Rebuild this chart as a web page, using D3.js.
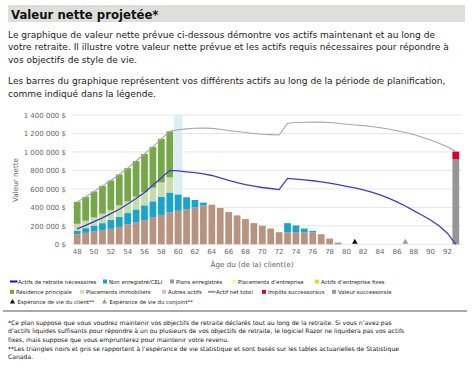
<!DOCTYPE html>
<html>
<head>
<meta charset="utf-8">
<script src="https://cdn.jsdelivr.net/npm/d3@7"></script>
<style>
  body { margin: 0; background: #fff; }
  svg { display: block; font-family: "DejaVu Sans", Verdana, sans-serif; }
</style>
</head>
<body>
<svg id="chart" width="474" height="377"></svg>
<script>
// ---- data (values in $) ----
var ages = [48, 49, 50, 51, 52, 53, 54, 55, 56, 57, 58, 59, 60, 61, 62, 63, 64, 65, 66, 67, 68, 69, 70,
            71, 72, 73, 74, 75, 76, 77, 78, 79, 80, 81, 82, 83, 84, 85, 86, 87, 88, 89, 90, 91, 92, 93]
var ageTicks = [48, 50, 52, 54, 56, 58, 60, 62, 64, 66, 68, 70, 72, 74, 76, 78, 80, 82, 84, 86, 88, 90, 92]
var yTicks = [0, 200000, 400000, 600000, 800000, 1000000, 1200000, 1400000]

var plansEnregistres = [109000, 124000, 138000, 153000, 167000, 189000, 218000, 240000, 262000, 290000, 318000, 345000,
                        364000, 380000, 400000, 422000, 429000, 393000, 349000, 313000, 273000, 229000, 200000,
                        171000, 131000, 131000, 131000, 131000, 131000, 109000, 62000, 18000, 0, 0, 0, 0, 0, 0, 0, 0, 0, 0, 0, 0, 0, 0]
var nonEnregistre = [36000, 51000, 66000, 76000, 98000, 109000, 120000, 138000, 160000, 176000, 196000, 216000,
                     174000, 129000, 80000, 29000, 0, 0, 0, 0, 0, 0, 0,
                     0, 0, 98000, 73000, 40000, 14000, 0, 0, 0, 0, 0, 0, 0, 0, 0, 0, 0, 0, 0, 0, 0, 0, 0]
var placementsImmobiliers = [77000, 80000, 87000, 102000, 106000, 124000, 127000, 138000, 142000, 146000, 156000, 163000,
                             0, 0, 0, 0, 0, 0, 0, 0, 0, 0, 0, 0, 0, 0, 0, 0, 0, 0, 0, 0, 0, 0, 0, 0, 0, 0, 0, 0, 0, 0, 0, 0, 0, 0]
var residencePrincipale = [236000, 258000, 280000, 302000, 320000, 334000, 360000, 386000, 414000, 443000, 472000, 500000,
                           0, 0, 0, 0, 0, 0, 0, 0, 0, 0, 0, 0, 0, 0, 0, 0, 0, 0, 0, 0, 0, 0, 0, 0, 0, 0, 0, 0, 0, 0, 0, 0, 0, 0]
var valeurSuccessorale = [0, 0, 0, 0, 0, 0, 0, 0, 0, 0, 0, 0, 0, 0, 0, 0, 0, 0, 0, 0, 0, 0, 0,
                          0, 0, 0, 0, 0, 0, 0, 0, 0, 0, 0, 0, 0, 0, 0, 0, 0, 0, 0, 0, 0, 0, 920000]
var impotsSuccessoraux = [0, 0, 0, 0, 0, 0, 0, 0, 0, 0, 0, 0, 0, 0, 0, 0, 0, 0, 0, 0, 0, 0, 0,
                          0, 0, 0, 0, 0, 0, 0, 0, 0, 0, 0, 0, 0, 0, 0, 0, 0, 0, 0, 0, 0, 0, 84000]
var actifsNecessaires = [166000, 205000, 245000, 287000, 332000, 380000, 436000, 495000, 560000, 640000, 720000, 801000,
                         795000, 785000, 775000, 762000, 745000, 720000, 692000, 667000, 647000, 630000, 615000,
                         604000, 593000, 713000, 706000, 698000, 688000, 676000, 662000, 646000, 628000, 610000, 590000,
                         565000, 535000, 500000, 460000, 415000, 365000, 315000, 263000, 200000, 120000, 0]
var actifNetTotal = [458000, 513000, 571000, 633000, 691000, 756000, 825000, 902000, 978000, 1055000, 1142000, 1224000,
                     1240000, 1250000, 1256000, 1258000, 1255000, 1245000, 1233000, 1221000, 1210000, 1200000, 1192000,
                     1188000, 1183000, 1310000, 1318000, 1322000, 1325000, 1323000, 1318000, 1310000, 1300000, 1292000,
                     1285000, 1275000, 1262000, 1248000, 1230000, 1210000, 1188000, 1160000, 1130000, 1095000, 1055000, 1004000]
var esperanceClient = 81
var esperanceConjoint = 87
var ageFocus = 60

var paragraph = [
  "Le graphique de valeur nette prévue ci-dessous démontre vos actifs maintenant et au long de",
  "votre retraite. Il illustre votre valeur nette prévue et les actifs requis nécessaires pour répondre à",
  "vos objectifs de style de vie.",
  "Les barres du graphique représentent vos différents actifs au long de la période de planification,",
  "comme indiqué dans la légende."
]
var footnotes = [
  "*Ce plan suppose que vous voudrez maintenir vos objectifs de retraite déclarés tout au long de la retraite. Si vous n’avez pas",
  "d’actifs liquides suffisants pour répondre à un ou plusieurs de vos objectifs de retraite, le logiciel Razor ne liquidera pas vos actifs",
  "fixes, mais suppose que vous emprunterez pour maintenir votre revenu.",
  "**Les triangles noirs et gris se rapportent à l’espérance de vie statistique et sont basés sur les tables actuarielles de Statistique",
  "Canada."
]

// stacked series, bottom to top
var seriesNames = ["plans", "nonEnr", "immo", "residence", "valeur", "impots"]
var seriesColor = {
  plans: "#b8937f", nonEnr: "#1aa3cb", immo: "#c7dcab", residence: "#76a748",
  valeur: "#969696", impots: "#d80032"
}

var svg = d3.select("#chart")

// ---- header ----
svg.append("rect").attr("x", 8).attr("y", 5).attr("width", 457).attr("height", 17).attr("fill", "#dededb")
svg.append("text").attr("x", 11).attr("y", 18.5)
  .attr("font-size", "11.7px").attr("font-weight", "bold").attr("fill", "#111")
  .text("Valeur nette projetée*")

var paraY = [37.5, 50, 62.5, 84, 96.5]
svg.append("g").selectAll("text").data(paragraph).join("text")
  .attr("x", 8).attr("y", (d, i) => paraY[i])
  .attr("font-size", "9.05px").attr("fill", "#222")
  .text(d => d)

// ---- chart ----
var margin = { top: 115, left: 73 },
    width = 387,
    height = 129.3

var x = d3.scaleBand().domain(ages).range([0, width]).paddingInner(0.2).paddingOuter(0.1)
var y = d3.scaleLinear().domain([0, 1400000]).range([height, 0])

var locale = d3.formatLocale({ decimal: ",", thousands: "\u00a0", grouping: [3], currency: ["", "\u00a0$"] })
var fmt = locale.format("$,")

var chartArea = svg.append("g").attr("transform", "translate(" + margin.left + "," + margin.top + ")")

// grid
chartArea.append("g").selectAll("line").data(yTicks).join("line")
  .attr("x1", -1).attr("x2", width + 2)
  .attr("y1", d => y(d)).attr("y2", d => y(d))
  .attr("stroke", "#e6e6e6").attr("stroke-width", 1)

// highlighted year
chartArea.append("rect")
  .attr("x", x(ageFocus) - (x.step() - x.bandwidth()) / 2)
  .attr("y", y(1400000))
  .attr("width", x.step())
  .attr("height", y(0) - y(1400000))
  .attr("fill", "#dbeff3")

var table = ages.map((a, i) => ({
  age: a,
  plans: plansEnregistres[i], nonEnr: nonEnregistre[i], immo: placementsImmobiliers[i],
  residence: residencePrincipale[i], valeur: valeurSuccessorale[i], impots: impotsSuccessoraux[i]
}))
var stacked = d3.stack().keys(seriesNames)(table)

chartArea.append("g").selectAll("g").data(stacked).join("g")
  .attr("fill", d => seriesColor[d.key])
  .selectAll("rect").data(d => d.filter(s => s[1] > s[0])).join("rect")
  .attr("x", d => x(d.data.age))
  .attr("width", x.bandwidth())
  .attr("y", d => y(d[1]))
  .attr("height", d => y(d[0]) - y(d[1]))

var cx = a => x(a) + x.bandwidth() / 2

var lineNet = d3.line().x((d, i) => cx(ages[i])).y(d => y(d))
chartArea.append("path").datum(actifNetTotal)
  .attr("d", lineNet).attr("fill", "none").attr("stroke", "#a8a8a8").attr("stroke-width", 1.1)
chartArea.append("path").datum(actifsNecessaires)
  .attr("d", lineNet).attr("fill", "none").attr("stroke", "#3d3dcf").attr("stroke-width", 1.3)

// life expectancy markers
var tri = d3.symbol().type(d3.symbolTriangle).size(14)
chartArea.append("path").attr("d", tri)
  .attr("transform", "translate(" + cx(esperanceClient) + "," + (y(0) - 2.2) + ")").attr("fill", "#111")
chartArea.append("path").attr("d", tri)
  .attr("transform", "translate(" + cx(esperanceConjoint) + "," + (y(0) - 2.2) + ")").attr("fill", "#9a9a9a")

// axes
var yAxis = chartArea.append("g").call(d3.axisLeft(y).tickValues(yTicks).tickFormat(fmt).tickSize(0).tickPadding(7))
var xAxis = chartArea.append("g").attr("transform", "translate(0," + height + ")")
  .call(d3.axisBottom(x).tickValues(ageTicks).tickSize(0).tickPadding(5))
;[yAxis, xAxis].forEach(g => {
  g.select(".domain").remove()
  g.selectAll("text").attr("font-family", "DejaVu Sans").attr("font-size", "7px").attr("fill", "#666")
})

chartArea.append("text")
  .attr("transform", "rotate(-90)")
  .attr("x", -(180 - margin.top)).attr("y", 15 - margin.left + 2.5)
  .attr("text-anchor", "middle").attr("font-size", "7.2px").attr("fill", "#666")
  .text("Valeur nette")
svg.append("text").attr("x", 252).attr("y", 266.5)
  .attr("text-anchor", "middle").attr("font-size", "7.2px").attr("fill", "#666")
  .text("Âge du (de la) client(e)")

// ---- legend ----
var legendItems = [
  { row: 0, x: 10, kind: "line", color: "#1010d0", label: "Actifs de retraite nécessaires" },
  { row: 0, x: 103, kind: "sq", color: "#1aa3cb", label: "Non enregistré/CELI" },
  { row: 0, x: 170, kind: "sq", color: "#b8937f", label: "Plans enregistrés" },
  { row: 0, x: 232, kind: "sq", color: "#fdf3a6", label: "Placements d’entreprise" },
  { row: 0, x: 315, kind: "sq", color: "#f4d22a", label: "Actifs d’entreprise fixes" },
  { row: 1, x: 10, kind: "sq", color: "#8d9c2c", label: "Résidence principale" },
  { row: 1, x: 80, kind: "sq", color: "#c7e0b4", label: "Placements immobiliers" },
  { row: 1, x: 162, kind: "sq", color: "#f0b3c3", label: "Autres actifs" },
  { row: 1, x: 208, kind: "line", color: "#9a9a9a", label: "Actif net total" },
  { row: 1, x: 262, kind: "sq", color: "#e0002a", label: "Impôts successoraux" },
  { row: 1, x: 332, kind: "sq", color: "#9a9a9a", label: "Valeur successorale" },
  { row: 2, x: 10, kind: "tri", color: "#111", label: "Espérance de vie du client**" },
  { row: 2, x: 102, kind: "tri", color: "#9a9a9a", label: "Espérance de vie du conjoint**" }
]
var rowY = [281.5, 291.8, 302]
var legend = svg.append("g")
legendItems.forEach(d => {
  var g = legend.append("g").attr("transform", "translate(" + d.x + "," + rowY[d.row] + ")")
  if (d.kind === "line") {
    g.append("rect").attr("x", 0).attr("y", -1).attr("width", 7.5).attr("height", 2).attr("fill", d.color)
    g.append("text").attr("x", 8).attr("y", 2).attr("font-size", "5.4px").attr("fill", "#222").text(d.label)
  } else if (d.kind === "sq") {
    g.append("rect").attr("x", 0).attr("y", -2).attr("width", 4).attr("height", 4).attr("fill", d.color)
    g.append("text").attr("x", 6).attr("y", 2).attr("font-size", "5.4px").attr("fill", "#222").text(d.label)
  } else {
    g.append("path").attr("d", d3.symbol().type(d3.symbolTriangle).size(12))
      .attr("transform", "translate(2.5,0)").attr("fill", d.color)
    g.append("text").attr("x", 7.5).attr("y", 2).attr("font-size", "5.4px").attr("fill", "#222").text(d.label)
  }
})

// ---- footnotes ----
svg.append("line").attr("x1", 3).attr("x2", 467).attr("y1", 311).attr("y2", 311)
  .attr("stroke", "#555").attr("stroke-width", 1)
var footY = [325, 333.3, 341.6, 350.5, 358.8]
svg.append("g").selectAll("text").data(footnotes).join("text")
  .attr("x", 8).attr("y", (d, i) => footY[i])
  .attr("font-size", "6.1px").attr("fill", "#111")
  .text(d => d)
</script>
</body>
</html>
